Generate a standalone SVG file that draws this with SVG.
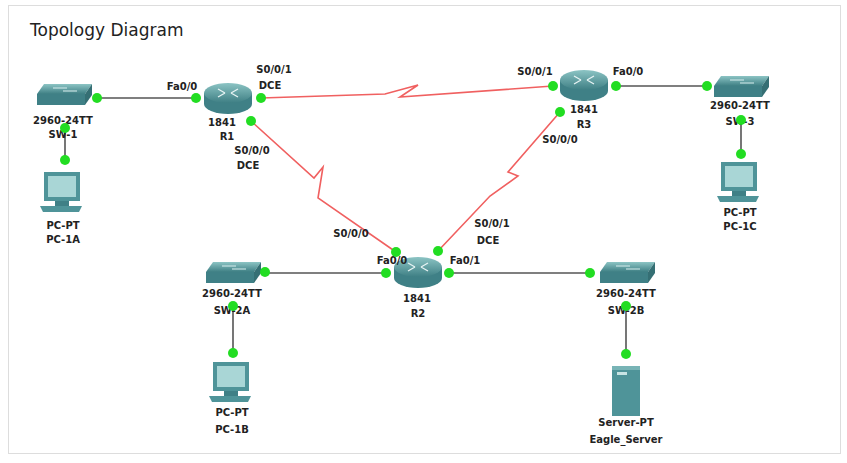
<svg xmlns="http://www.w3.org/2000/svg" width="847" height="463" viewBox="0 0 847 463">
<style>
text{font-family:"DejaVu Sans",sans-serif;font-size:10px;font-weight:bold;fill:#222;text-anchor:middle}
.t{font-size:17px;font-weight:normal;text-anchor:start}
.eth{stroke:#555;stroke-width:1.6;fill:none}
.ser{stroke:#f06060;stroke-width:1.6;fill:none}
.d{fill:#22dd22}
</style>
<defs>
<linearGradient id="g" x1="0" y1="0" x2="0" y2="1"><stop offset="0" stop-color="#8cc4c4"/><stop offset="1" stop-color="#3e7f84"/></linearGradient>
<g id="router"><path d="M-24,-5 v11 a24,10 0 0 0 48,0 v-11 z" fill="#3f8086"/><ellipse cx="0" cy="-5" rx="24" ry="10" fill="url(#g)"/><path d="M-10,-9 l7,4 M-10,-1 l7,-4 M10,-9 l-7,4 M10,-1 l-7,-4" stroke="#e8f4f4" stroke-width="1.3"/></g>
<g id="switch"><path d="M-26,-2 h48 v11 h-48 z" fill="#3f8086"/><path d="M-26,-2 l7,-10 h48 l-7,10 z" fill="url(#g)"/><path d="M22,-2 l7,-10 v11 l-7,10 z" fill="#356f74"/><path d="M-10,-8 h14 M0,-5 h14" stroke="#d8eeee" stroke-width="1"/></g>
<g id="pc"><rect x="-19" y="-25" width="36" height="29" fill="#4f9499"/><rect x="-15" y="-21" width="28" height="21" fill="#a9d6d6"/><rect x="-8" y="4" width="14" height="5" fill="#3f8086"/><path d="M-23,9 h42 l-3,6 h-36 z" fill="#4f9499"/></g>
<g id="server"><rect x="-14" y="-25" width="28" height="50" fill="#4f9499"/><rect x="-9" y="-19" width="10" height="3" fill="#c8e4e4"/><rect x="-14" y="-25" width="28" height="4" fill="#78b4b6"/></g>
</defs>
<rect x="8.5" y="5.5" width="832" height="448" fill="#fff" stroke="#ddd"/>
<text class="t" x="30" y="36">Topology Diagram</text>
<g id="connectors">
<path class="eth" d="M97,98 H196 M65,128 V160 M616,86 H707 M741,120 V154 M265,273 H386 M449,273 H590 M233,306 V353 M626,306 V354"/>
<path class="ser" d="M261,98 L385,94 L418,85 L400,97 L553,86"/>
<path class="ser" d="M251,121 L314,178 L323,167 L318,198 L396,252"/>
<path class="ser" d="M560,112 L508,172 L518,176 L490,196 L438,251"/>
</g>
<g id="SW-1"><use href="#switch" x="63" y="96"/><text x="63" y="124">2960-24TT</text><text x="63" y="138">SW-1</text></g>
<g id="PC-1A"><use href="#pc" x="63" y="197"/><text x="63" y="229">PC-PT</text><text x="63" y="243">PC-1A</text></g>
<g id="R1"><use href="#router" x="228" y="98"/><text x="222" y="126">1841</text><text x="227" y="140">R1</text>
<text x="182" y="90">Fa0/0</text><text x="274" y="73">S0/0/1</text><text x="270" y="89">DCE</text><text x="252" y="154">S0/0/0</text><text x="248" y="169">DCE</text></g>
<g id="R3"><use href="#router" x="584" y="85"/><text x="584" y="113">1841</text><text x="584" y="128">R3</text>
<text x="535" y="75">S0/0/1</text><text x="628" y="75">Fa0/0</text><text x="560" y="143">S0/0/0</text></g>
<g id="SW-3"><use href="#switch" x="740" y="88"/><text x="740" y="109">2960-24TT</text><text x="740" y="125">SW-3</text></g>
<g id="PC-1C"><use href="#pc" x="740" y="187"/><text x="740" y="216">PC-PT</text><text x="740" y="230">PC-1C</text></g>
<g id="R2"><use href="#router" x="418" y="272"/><text x="417" y="302">1841</text><text x="418" y="317">R2</text>
<text x="351" y="237">S0/0/0</text><text x="492" y="227">S0/0/1</text><text x="488" y="244">DCE</text><text x="392" y="264">Fa0/0</text><text x="465" y="264">Fa0/1</text></g>
<g id="SW-2A"><use href="#switch" x="232" y="274"/><text x="232" y="297">2960-24TT</text><text x="232" y="314">SW-2A</text></g>
<g id="PC-1B"><use href="#pc" x="232" y="387"/><text x="232" y="416">PC-PT</text><text x="232" y="433">PC-1B</text></g>
<g id="SW-2B"><use href="#switch" x="626" y="274"/><text x="626" y="297">2960-24TT</text><text x="626" y="314">SW-2B</text></g>
<g id="Eagle_Server"><use href="#server" x="626" y="391"/><text x="626" y="426">Server-PT</text><text x="626" y="443">Eagle_Server</text></g>
<g id="ports">
<circle class="d" cx="97" cy="98" r="5"/><circle class="d" cx="65" cy="128" r="5"/><circle class="d" cx="65" cy="160" r="5"/>
<circle class="d" cx="196" cy="98" r="5"/><circle class="d" cx="261" cy="98" r="5"/><circle class="d" cx="251" cy="121" r="5"/>
<circle class="d" cx="553" cy="86" r="5"/><circle class="d" cx="616" cy="86" r="5"/><circle class="d" cx="560" cy="112" r="5"/>
<circle class="d" cx="707" cy="86" r="5"/><circle class="d" cx="741" cy="120" r="5"/><circle class="d" cx="741" cy="154" r="5"/>
<circle class="d" cx="396" cy="252" r="5"/><circle class="d" cx="438" cy="251" r="5"/><circle class="d" cx="386" cy="273" r="5"/><circle class="d" cx="449" cy="273" r="5"/>
<circle class="d" cx="265" cy="272" r="5"/><circle class="d" cx="233" cy="306" r="5"/><circle class="d" cx="233" cy="353" r="5"/>
<circle class="d" cx="590" cy="273" r="5"/><circle class="d" cx="626" cy="306" r="5"/><circle class="d" cx="626" cy="354" r="5"/>
</g>
</svg>
